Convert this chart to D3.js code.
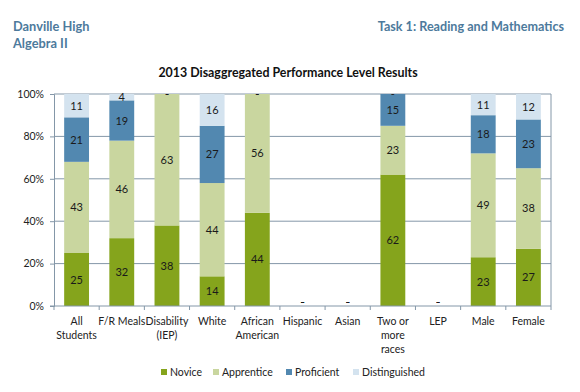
<!DOCTYPE html>
<html><head><meta charset="utf-8">
<script src="https://cdn.jsdelivr.net/npm/d3@7"></script>
<style>body{margin:0;background:#fff}svg{display:block}</style>
</head><body><svg id="c" width="580" height="392"></svg>
<script>
const categories = [["All","Students"],["F/R Meals"],["Disability","(IEP)"],["White"],["African","American"],["Hispanic"],["Asian"],["Two or","more","races"],["LEP"],["Male"],["Female"]];
const seriesNames = ["Novice","Apprentice","Proficient","Distinguished"];
const novice =        [25,32,38,14,44,0,0,62,0,23,27];
const apprentice =    [43,46,63,44,56,0,0,23,0,49,38];
const proficient =    [21,19,0,27,0,0,0,15,0,18,23];
const distinguished = [11,4,0,16,0,0,0,0,0,11,12];
const yTicks = [0,20,40,60,80,100];
const colors = ["#85a41c","#c9d69f","#5288b0","#d4e3ef"];
const font = "Lato, 'Open Sans', sans-serif";

const svg = d3.select("#c");
const x = d3.scaleBand().domain(d3.range(categories.length)).range([54,551]).paddingInner(0.45).paddingOuter(0.225);
const xOuter = d3.scaleBand().domain(d3.range(categories.length)).range([54,551]);
const y = d3.scaleLinear().domain([0,100]).range([306,94]);

// header
const hc = "#4d7a9c";
svg.append("text").attr("x",13).attr("y",31).text("Danville High").attr("font-family",font).attr("font-weight","bold").attr("font-size",12.8).attr("fill",hc);
svg.append("text").attr("x",13).attr("y",48).text("Algebra II").attr("font-family",font).attr("font-weight","bold").attr("font-size",12.8).attr("fill",hc);
svg.append("text").attr("x",564).attr("y",31).attr("text-anchor","end").text("Task 1: Reading and Mathematics").attr("font-family",font).attr("font-weight","bold").attr("font-size",12.6).attr("fill",hc);
svg.append("text").attr("x",288).attr("y",77).attr("text-anchor","middle").text("2013 Disaggregated Performance Level Results").attr("font-family",font).attr("font-weight","bold").attr("font-size",12.4).attr("fill","#111");

// gridlines
svg.append("g").selectAll("line").data(yTicks.filter(d=>d>0)).join("line")
  .attr("x1",54).attr("x2",551).attr("y1",d=>y(d)).attr("y2",d=>y(d)).attr("stroke","#8497a8").attr("stroke-width",1);
svg.append("line").attr("x1",551).attr("x2",551).attr("y1",94).attr("y2",306).attr("stroke","#8497a8");

// stacked data
const data = categories.map((c,i)=>({i, Novice:novice[i], Apprentice:apprentice[i], Proficient:proficient[i], Distinguished:distinguished[i]}));
const stack = d3.stack().keys(seriesNames)(data);
const g = svg.append("g");
stack.forEach((layer,k)=>{
  g.selectAll(null).data(layer).join("rect")
    .attr("x",d=>x(d.data.i)).attr("width",x.bandwidth())
    .attr("y",d=>y(Math.min(100,d[1]))).attr("height",d=>Math.max(0,y(Math.min(100,d[0]))-y(Math.min(100,d[1]))))
    .attr("fill",colors[k]);
});
// labels
stack.forEach((layer,k)=>{
  g.selectAll(null).data(layer).join("text")
    .attr("x",d=>x(d.data.i)+x.bandwidth()/2)
    .attr("y",d=>{const v=d[1]-d[0]; if(v===0) return y(Math.min(100,d[0]))+ (d[0]>=100?4:0); return (y(Math.min(100,d[0]))+y(Math.min(100,d[1])))/2+4;})
    .attr("text-anchor","middle").attr("font-family",font).attr("font-size",11).attr("fill","#1a1a1a")
    .text(d=>{const v=d[1]-d[0]; return v===0?"-":v;});
});

// y axis
const ya = svg.append("g").attr("transform","translate(54,0)")
  .call(d3.axisLeft(y).tickValues(yTicks).tickFormat(d=>d+"%").tickSize(4).tickPadding(6));
ya.select(".domain").attr("stroke","#8497a8");
ya.selectAll(".tick line").attr("stroke","#8497a8");
ya.selectAll("text").attr("font-family",font).attr("font-size",10.5).attr("fill","#222");

// x axis
svg.append("line").attr("x1",50).attr("x2",551).attr("y1",306).attr("y2",306).attr("stroke","#8497a8");
svg.append("g").selectAll("line").data(d3.range(categories.length+1)).join("line")
  .attr("x1",d=>d<categories.length?xOuter(d):551).attr("x2",d=>d<categories.length?xOuter(d):551)
  .attr("y1",306).attr("y2",310).attr("stroke","#8497a8");
const xl = svg.append("g");
categories.forEach((c,i)=>{
  const t = xl.append("text").attr("text-anchor","middle").attr("font-family",font).attr("font-size",10.5).attr("fill","#222");
  c.forEach((line,j)=>t.append("tspan").attr("x",xOuter(i)+xOuter.bandwidth()/2).attr("y",325+j*14).text(line));
});

// legend
const legX = [161,213,286,353];
const lg = svg.append("g");
seriesNames.forEach((s,k)=>{
  lg.append("rect").attr("x",legX[k]).attr("y",369).attr("width",6).attr("height",6).attr("fill",colors[k]);
  lg.append("text").attr("x",legX[k]+9).attr("y",376).text(s).attr("font-family",font).attr("font-size",10.5).attr("fill","#222");
});
</script></body></html>
